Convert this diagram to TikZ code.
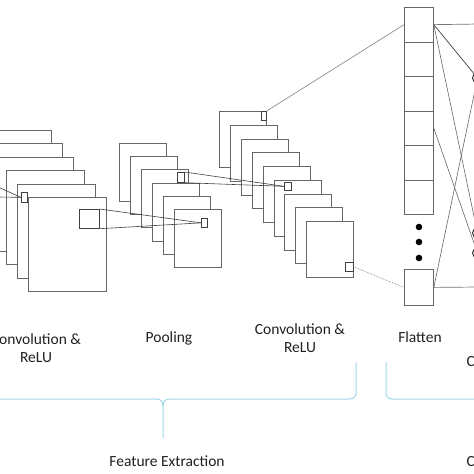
\documentclass[tikz,border=0pt]{standalone}
\usepackage{fontspec}
\setmainfont{Carlito}
\usetikzlibrary{positioning}

\definecolor{bracecol}{HTML}{9FD8EA}
\definecolor{labelcol}{HTML}{202020}

\begin{document}
\begin{tikzpicture}[x=1pt, y=-1pt]
	\tikzstyle{fmap}=[
	draw=black!60, fill=white, line width=0.8pt,
	inner sep=0pt, anchor=north west
	]
	\tikzstyle{kern}=[draw=black!75, fill=white, line width=0.7pt, inner sep=0pt, anchor=north west]
	\tikzstyle{cell}=[draw=black!60, fill=white, line width=0.8pt, inner sep=0pt, anchor=north west,
	minimum width=29pt, minimum height=34.5pt]
	\tikzstyle{unit}=[circle, draw=black!85, line width=0.9pt, minimum size=10pt, inner sep=0pt]
	\tikzstyle{link}=[draw=black!75, line width=0.6pt]
	\tikzstyle{lab}=[font=\fontsize{15.5}{18}\selectfont, text=labelcol, align=center]
	\tikzstyle{brace}=[draw=bracecol, line width=1pt]
	
	\useasboundingbox (0,0) rectangle (474,474);
	\clip (0,0) rectangle (474,474);
	
	% first convolution
	\foreach \i in {0,...,5}
	\node[fmap, minimum width=78pt, minimum height=94pt] (convA\i) at (-27+11*\i, 130+13.4*\i) {};
	\node[kern, minimum width=6pt, minimum height=10pt] (sqA) at (21,192) {};
	\node[kern, minimum width=20pt, minimum height=19pt] (kA) at (79,209) {};
	
	% pooling
	\foreach \i in {0,...,5}
	\node[fmap, minimum width=47pt, minimum height=58pt] (pool\i) at (119+11*\i, 143+13.2*\i) {};
	\node[kern, minimum width=7pt, minimum height=10pt] (sqQ) at (177,172) {};
	\node[kern, minimum width=6pt, minimum height=9pt] (sqP) at (201,218) {};
	
	% second convolution
	\foreach \i in {0,...,8}
	\node[fmap, minimum width=47pt, minimum height=56pt] (convB\i) at (219+10.9*\i, 111+13.75*\i) {};
	\node[kern, minimum width=5pt, minimum height=9pt] (sqT) at (261,111) {};
	\node[kern, minimum width=7pt, minimum height=8pt] (sqC) at (284,182) {};
	\node[kern, minimum width=8pt, minimum height=9pt] (sqB) at (345,262) {};
	
	% flatten
	\foreach \i in {1,...,6}
	\node[cell] (fl\i) at (404, 7+34.5*\i-34.5) {};
	\node[cell, minimum height=36pt] (flB) at (404,269) {};
	\foreach \y in {227,242,258}
	\fill (419,\y) circle (3.3pt);
	
	% dense layer (cut off at the edge)
	\node[unit] (fc1) at (477.5,78) {};
	\node[unit] (fc2) at (477.5,233) {};
	\node[unit] (fc3) at (477.5,253) {};
	\coordinate (fcTop) at (480,24);
	\coordinate (fcBot) at (480,287);
	
	% input side
	\coordinate (inA) at (-2,187);
	\coordinate (inB) at (-2,197);
	
	% connectors
	\draw[link] (inA) -- (sqA.west);
	\draw[link] (inB) -- (sqA.west);
	\draw[link] (kA.north east) -- (sqP.west);
	\draw[link] (kA.south east) -- (sqP.west);
	\draw[link] (sqQ.north east) -- (sqC.west);
	\draw[link] (sqQ.south east) -- (sqC.west);
	\draw[black!50, line width=0.6pt] (sqT.north east) -- (fl1.west);
	\draw[black!60, line width=0.6pt, densely dotted] (sqB.east) -- (flB.west);
	
	\draw[black!55, line width=0.7pt] (fl1.east) -- (fcTop);
	\draw[black!75, line width=0.7pt] (fl1.east) -- (fc1);
	\draw[black!60, line width=0.6pt] (fl1.east) -- (fc2);
	\draw[black!60, line width=0.6pt] (fl4.east) -- (fc3);
	\draw[black!60, line width=0.6pt] (flB.east) -- (fc1);
	\draw[black!55, line width=0.7pt] (flB.east) -- (fcBot);
	
	% labels
	\node[lab] (labA) at (36,348) {Convolution \&\\ReLU};
	\node[lab] (labB) at (169,338) {Pooling};
	\node[lab] (labC) at (300,338) {Convolution \&\\ReLU};
	\node[lab] (labD) at (420,337) {Flatten};
	\node[lab, anchor=west] (labF) at (463,362) {C};
	\node[lab] (labE) at (167,461) {Feature Extraction};
	\node[lab, anchor=west] (labG) at (463,462) {C};
	
	% braces
	\draw[brace] (-10,399) -- (157,399) to[out=0,in=90] (163,406) -- (163,438);
	\draw[brace] (163,406) to[out=90,in=180] (169,399) -- (350,399) to[out=0,in=-90] (356,393) -- (356,362);
	\draw[brace] (386,362) -- (386,393) to[out=-90,in=180] (392,399) -- (480,399);
\end{tikzpicture}
\end{document}
